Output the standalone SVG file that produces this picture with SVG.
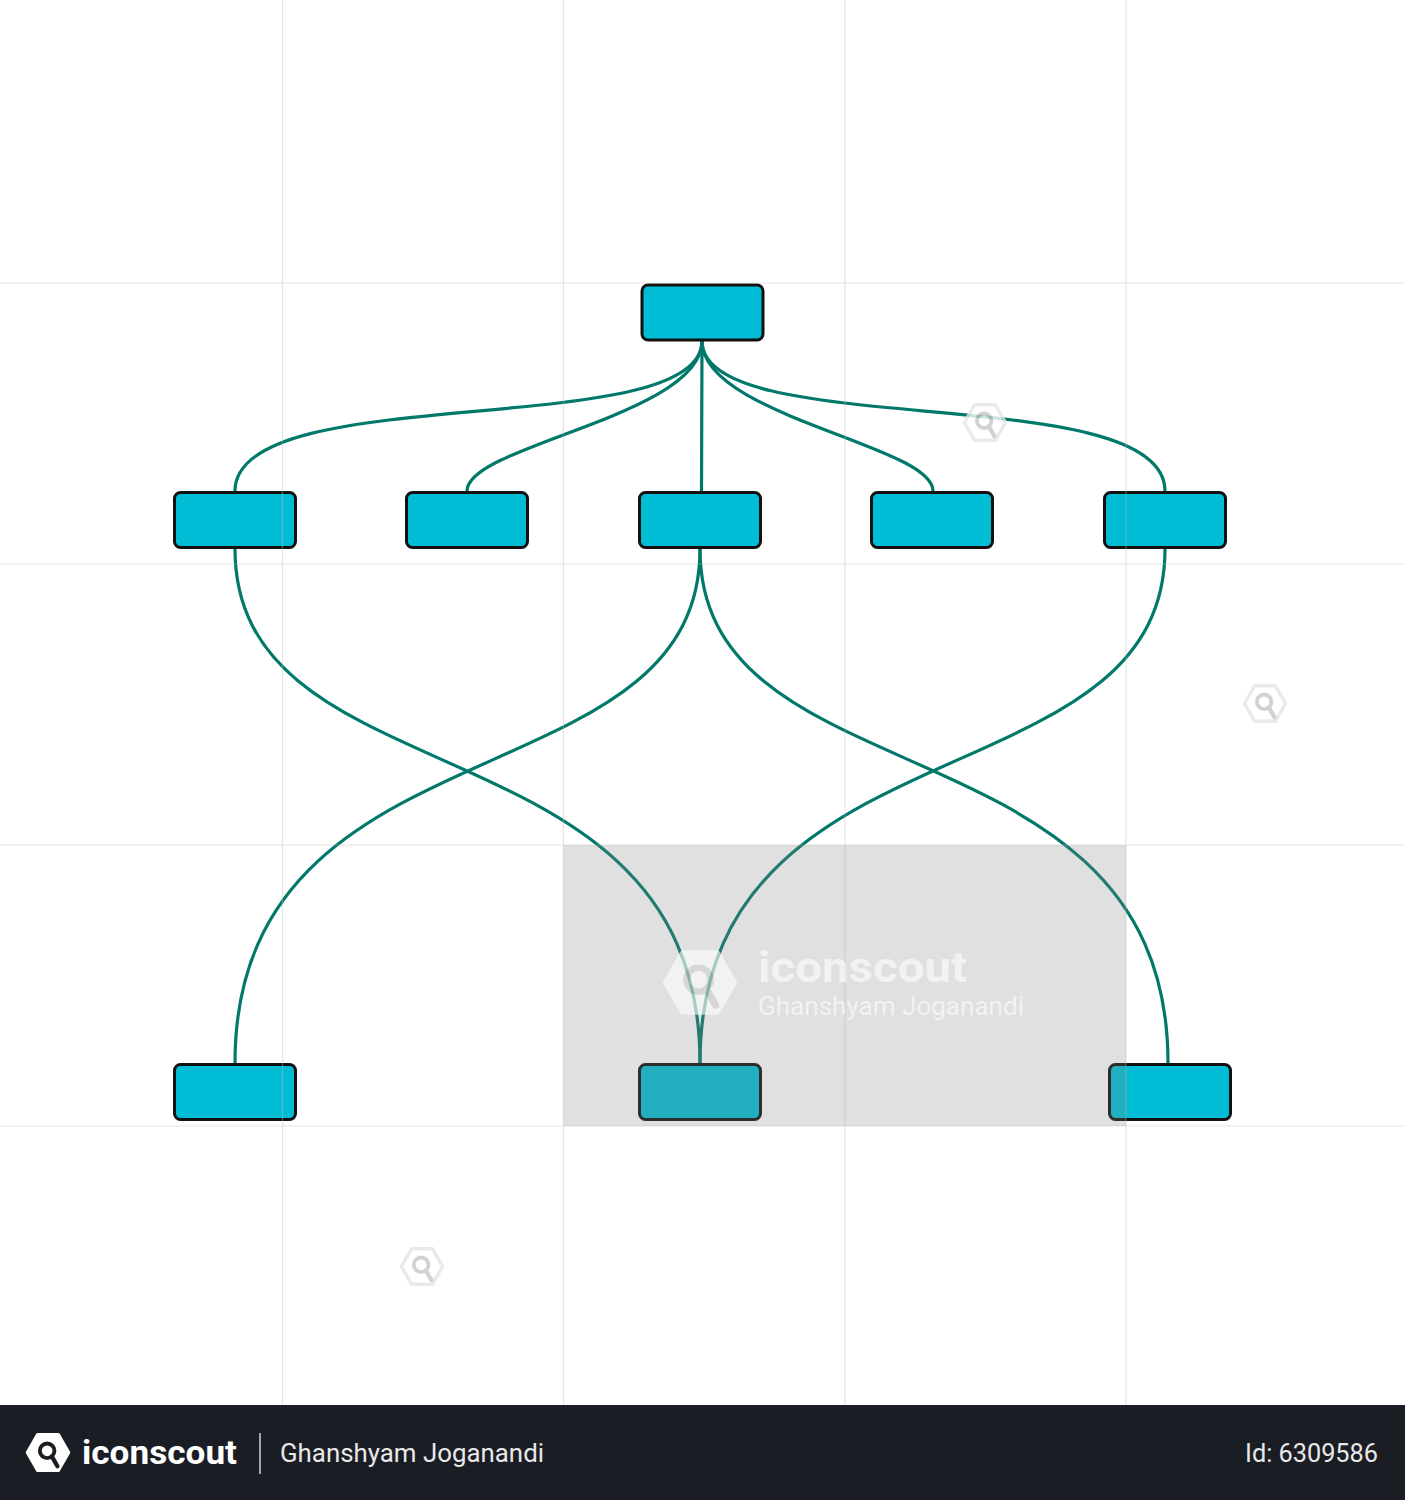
<svg xmlns="http://www.w3.org/2000/svg" xmlns:xlink="http://www.w3.org/1999/xlink" width="1405" height="1500" viewBox="0 0 1405 1500">
  <style>
    .node { fill: #00bcd4; stroke: #111111; stroke-width: 3; }
    .edge { fill: none; stroke: #00796b; stroke-width: 3.2; stroke-linecap: round; }
    .grid { stroke: #bdbdbd; stroke-opacity: 0.4; stroke-width: 1.2; }
    .wm-text { font-family: Roboto, "Liberation Sans", sans-serif; fill: #ffffff; }
    .bar-text { font-family: Roboto, "Liberation Sans", sans-serif; }
  </style>
  <defs>
    <symbol id="logo" viewBox="-56 -50 112 100">
      <polygon points="-48,0 -24,-41.5 24,-41.5 48,0 24,41.5 -24,41.5" stroke-width="8" stroke-linejoin="round"/>
      <circle cx="-2" cy="-4" r="17" fill="none" stroke="currentColor" stroke-width="9"/>
      <line x1="9" y1="9" x2="22" y2="32" stroke="currentColor" stroke-width="10" stroke-linecap="round"/>
    </symbol>
  </defs>

  <rect x="0" y="0" width="1405" height="1500" fill="#ffffff"/>

  <g id="connectors">
    <path class="edge" d="M702 341 C702 443 235 378 235 491"/>
    <path class="edge" d="M702 341 C702 416 467 445 467 491"/>
    <path class="edge" d="M702 341 L701.5 491"/>
    <path class="edge" d="M702 341 C702 416 933 445 933 491"/>
    <path class="edge" d="M702 341 C702 443 1165 378 1165 491"/>
    <path class="edge" d="M235 549 C235 806 700 713 700 1063"/>
    <path class="edge" d="M700 549 C700 806 235 713 235 1063"/>
    <path class="edge" d="M700 549 C700 806 1168 713 1168 1063"/>
    <path class="edge" d="M1165 549 C1165 806 700 713 700 1063"/>
  </g>

  <g id="node-root"><rect class="node" x="642" y="285" width="121" height="55" rx="6"/></g>
  <g id="node-a1"><rect class="node" x="174.5" y="492.5" width="121" height="55" rx="6"/></g>
  <g id="node-a2"><rect class="node" x="406.5" y="492.5" width="121" height="55" rx="6"/></g>
  <g id="node-a3"><rect class="node" x="639.5" y="492.5" width="121" height="55" rx="6"/></g>
  <g id="node-a4"><rect class="node" x="871.5" y="492.5" width="121" height="55" rx="6"/></g>
  <g id="node-a5"><rect class="node" x="1104.5" y="492.5" width="121" height="55" rx="6"/></g>
  <g id="node-b1"><rect class="node" x="174.5" y="1064.5" width="121" height="55" rx="6"/></g>
  <g id="node-b2"><rect class="node" x="639.5" y="1064.5" width="121" height="55" rx="6"/></g>
  <g id="node-b3"><rect class="node" x="1109.5" y="1064.5" width="121" height="55" rx="6"/></g>

  <g id="watermark">
    <g class="grid">
      <line x1="282.5" y1="0" x2="282.5" y2="1405"/>
      <line x1="563.5" y1="0" x2="563.5" y2="1405"/>
      <line x1="845" y1="0" x2="845" y2="1405"/>
      <line x1="1126" y1="0" x2="1126" y2="1405"/>
      <line x1="0" y1="283" x2="1405" y2="283"/>
      <line x1="0" y1="564" x2="1405" y2="564"/>
      <line x1="0" y1="845" x2="1405" y2="845"/>
      <line x1="0" y1="1126" x2="1405" y2="1126"/>
    </g>
    <rect x="563.5" y="845" width="562.5" height="281" fill="#858585" fill-opacity="0.25"/>
    <use href="#logo" x="660" y="947" width="80" height="71" fill="#ffffff" stroke="#ffffff" color="#d0d0d0" opacity="0.6"/>
    <text class="wm-text" x="758" y="982" font-size="42" font-weight="700" textLength="209" lengthAdjust="spacingAndGlyphs" fill-opacity="0.6">iconscout</text>
    <text class="wm-text" x="758" y="1015" font-size="25" textLength="266" lengthAdjust="spacingAndGlyphs" fill-opacity="0.6">Ghanshyam Joganandi</text>
    <use href="#logo" x="961" y="401" width="48" height="43" fill="#ffffff" stroke="#e6e6e6" color="#c8c8c8" opacity="0.8"/>
    <use href="#logo" x="1241" y="682" width="48" height="43" fill="#ffffff" stroke="#e6e6e6" color="#c8c8c8" opacity="0.8"/>
    <use href="#logo" x="398" y="1245" width="48" height="43" fill="#ffffff" stroke="#e6e6e6" color="#c8c8c8" opacity="0.8"/>
  </g>

  <g id="footer">
    <rect x="0" y="1405" width="1405" height="95" fill="#1b1d24"/>
    <use href="#logo" x="24" y="1431" width="48" height="43" fill="#ffffff" stroke="#ffffff" color="#1b1d24"/>
    <text class="bar-text" x="82" y="1464" font-size="34" font-weight="700" fill="#ffffff" textLength="155" lengthAdjust="spacingAndGlyphs">iconscout</text>
    <line x1="260" y1="1433" x2="260" y2="1474" stroke="#d0d0d0" stroke-width="1.5"/>
    <text class="bar-text" x="280" y="1462" font-size="26" fill="#e8e8e8" textLength="264" lengthAdjust="spacingAndGlyphs">Ghanshyam Joganandi</text>
    <text class="bar-text" x="1378" y="1462" font-size="26" fill="#e8e8e8" text-anchor="end" textLength="133" lengthAdjust="spacingAndGlyphs">Id: 6309586</text>
  </g>
</svg>
